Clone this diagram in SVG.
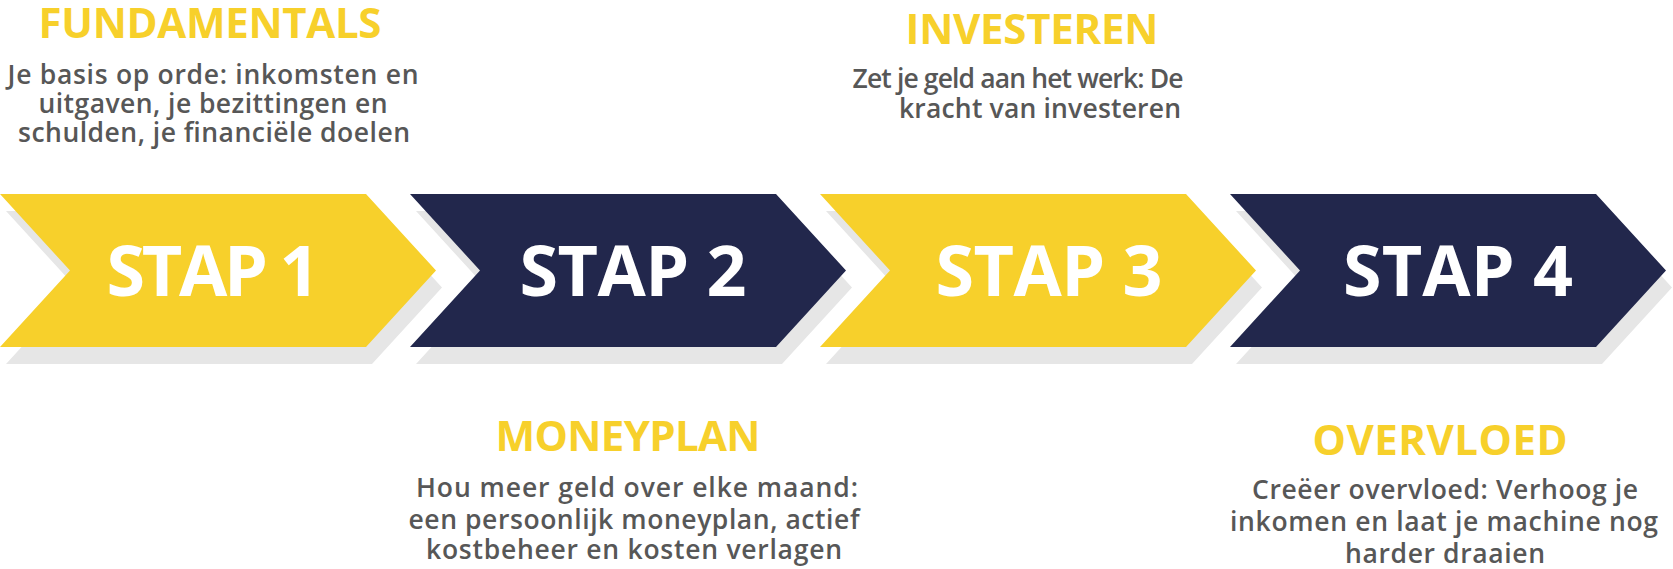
<svg xmlns="http://www.w3.org/2000/svg" xmlns:xlink="http://www.w3.org/1999/xlink" width="1673" height="569" viewBox="0 0 1673 569">
  <style>
    .yellow { fill: #F7D02B; }
    .navy { fill: #22274C; }
    .shadow { fill: #E6E6E6; }
    .stap { font-family: "Open Sans", "Liberation Sans", sans-serif; font-weight: 700; font-size: 70px; fill: #FFFFFF; text-anchor: middle; }
    .title { font-family: "Open Sans", "Liberation Sans", sans-serif; font-weight: 700; font-size: 42px; fill: #F7D02B; text-anchor: middle; }
    .body { font-family: "Open Sans", "Liberation Sans", sans-serif; font-weight: 600; font-size: 26.5px; fill: #575757; text-anchor: middle; }
  </style>
  <defs>
    <path id="chev" d="M0,194 H366 L436,270.5 L366,347 H0 L70,270.5 Z"/>
  </defs>
  <rect width="1673" height="569" fill="#FFFFFF"/>

  <g id="shadows">
    <use xlink:href="#chev" href="#chev" class="shadow" transform="translate(6,17)"/>
    <use xlink:href="#chev" href="#chev" class="shadow" transform="translate(416,17)"/>
    <use xlink:href="#chev" href="#chev" class="shadow" transform="translate(826,17)"/>
    <use xlink:href="#chev" href="#chev" class="shadow" transform="translate(1236,17)"/>
  </g>

  <g id="step1">
    <use xlink:href="#chev" href="#chev" class="yellow"/>
    <text class="stap" x="213" y="296" textLength="213">STAP 1</text>
  </g>
  <g id="step2">
    <use xlink:href="#chev" href="#chev" class="navy" transform="translate(410,0)"/>
    <text class="stap" x="633" y="296" textLength="227">STAP 2</text>
  </g>
  <g id="step3">
    <use xlink:href="#chev" href="#chev" class="yellow" transform="translate(820,0)"/>
    <text class="stap" x="1049" y="296" textLength="227">STAP 3</text>
  </g>
  <g id="step4">
    <use xlink:href="#chev" href="#chev" class="navy" transform="translate(1230,0)"/>
    <text class="stap" x="1458" y="296" textLength="230">STAP 4</text>
  </g>

  <g id="label-fundamentals">
    <text class="title" x="210" y="38" textLength="343">FUNDAMENTALS</text>
    <text class="body" x="213" y="84" textLength="411">Je basis op orde: inkomsten en</text>
    <text class="body" x="213" y="113" textLength="349">uitgaven, je bezittingen en</text>
    <text class="body" x="214" y="142" textLength="392">schulden, je financiële doelen</text>
  </g>

  <g id="label-investeren">
    <text class="title" x="1032" y="44" textLength="253">INVESTEREN</text>
    <text class="body" x="1018" y="88" textLength="331">Zet je geld aan het werk: De</text>
    <text class="body" x="1040" y="118" textLength="282">kracht van investeren</text>
  </g>

  <g id="label-moneyplan">
    <text class="title" x="628" y="451" textLength="265">MONEYPLAN</text>
    <text class="body" x="637" y="497" textLength="442">Hou meer geld over elke maand:</text>
    <text class="body" x="634" y="529" textLength="451">een persoonlijk moneyplan, actief</text>
    <text class="body" x="634" y="559" textLength="416">kostbeheer en kosten verlagen</text>
  </g>

  <g id="label-overvloed">
    <text class="title" x="1440" y="455" textLength="255">OVERVLOED</text>
    <text class="body" x="1445" y="499" textLength="386">Creëer overvloed: Verhoog je</text>
    <text class="body" x="1444" y="531" textLength="428">inkomen en laat je machine nog</text>
    <text class="body" x="1445" y="563" textLength="200">harder draaien</text>
  </g>

  <g id="connectors"/>
</svg>
